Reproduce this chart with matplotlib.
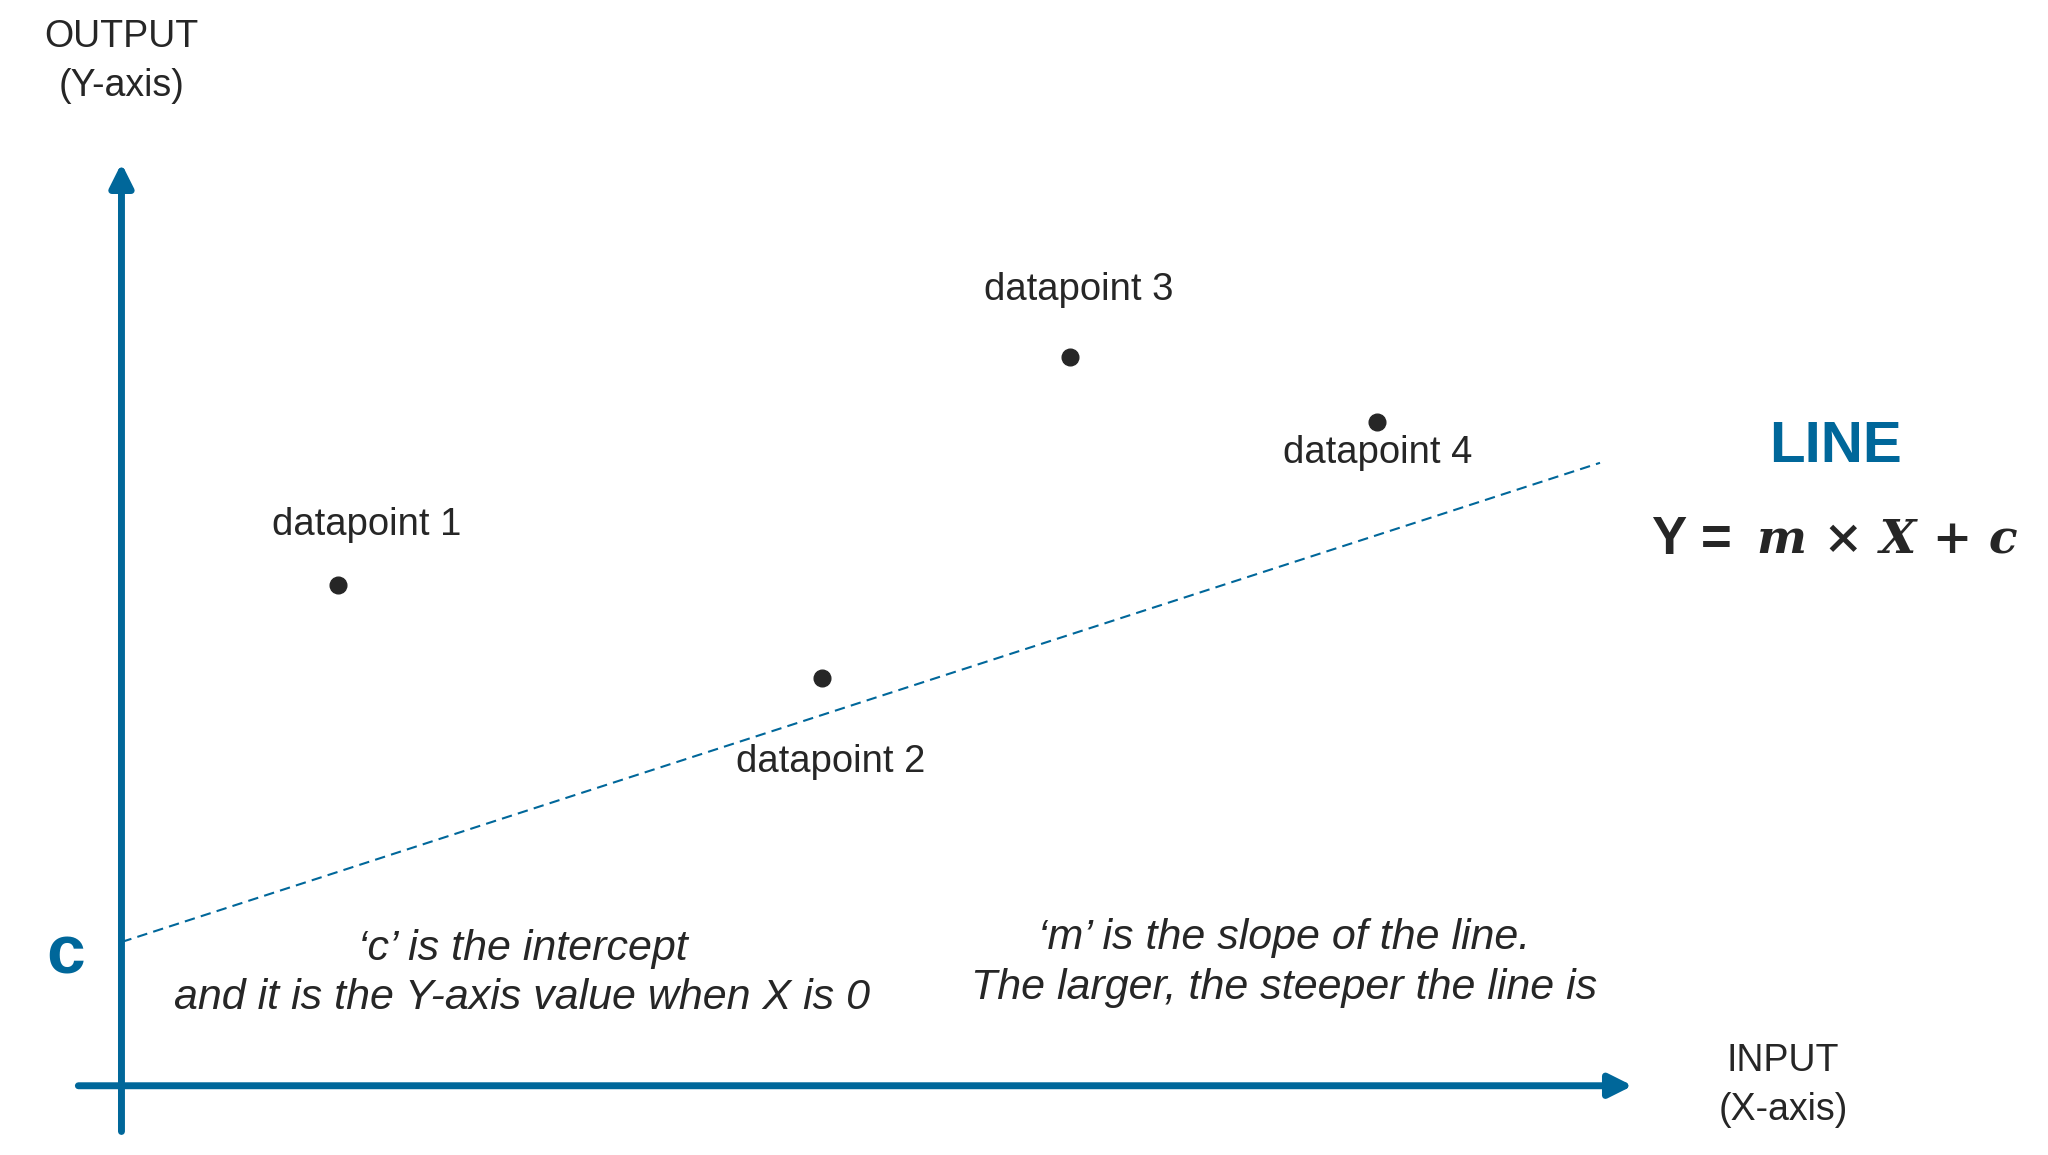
import matplotlib
matplotlib.use("Agg")
import matplotlib.pyplot as plt

plt.rcParams['font.family'] = ['Liberation Sans', 'DejaVu Sans']

BLUE = '#00679A'
DARK = '#262626'

# data (origin at axes intersection)
pt_x = [166, 536, 726, 961]
pt_y = [383, 312, 558, 508]
pt_labels = ['datapoint 1', 'datapoint 2', 'datapoint 3', 'datapoint 4']
label_x = [188, 543, 733, 962]
label_y = [429, 248, 609, 484]
intercept = 110
slope = 0.324
line_x = [0, 1132]

fig = plt.figure(figsize=(20.48, 11.55), dpi=100)
ax = fig.add_axes([0, 0, 1, 1])
ax.set_xlim(-93, 1568 - 93)
ax.set_ylim(-53, 831)
ax.axis('off')

# axes arrows
ax.annotate('', xy=(0, 706), xytext=(0, -35),
            arrowprops=dict(arrowstyle='-|>', lw=5, color=BLUE, mutation_scale=35, shrinkA=0, shrinkB=0))
ax.annotate('', xy=(1157, 0), xytext=(-33, 0),
            arrowprops=dict(arrowstyle='-|>', lw=5, color=BLUE, mutation_scale=35, shrinkA=0, shrinkB=0))

# fitted line
ax.plot(line_x, [intercept + slope * x for x in line_x], ls=(0, (5, 3)), lw=1.5, color=BLUE)

# points
ax.plot(pt_x, pt_y, 'o', ms=12, color=DARK, ls='none')
for lx, ly, t in zip(label_x, label_y, pt_labels):
    ax.text(lx, ly, t, ha='center', va='center', fontsize=27.5, color=DARK)

ax.text(0, 784, 'OUTPUT\n(Y-axis)', ha='center', va='center', fontsize=27, color=DARK, linespacing=1.45)
ax.text(1272, 0, 'INPUT\n(X-axis)', ha='center', va='center', fontsize=27, color=DARK, linespacing=1.45)
ax.text(-43, 100, 'c', ha='center', va='center', fontsize=50, fontweight='bold', color=BLUE)
ax.text(307, 86, '\u2018c\u2019 is the intercept\nand it is the Y-axis value when X is 0',
        ha='center', va='center', fontsize=31, style='italic', color=DARK, linespacing=1.3)
ax.text(890, 94, '\u2018m\u2019 is the slope of the line.\nThe larger, the steeper the line is',
        ha='center', va='center', fontsize=31, style='italic', color=DARK, linespacing=1.3)
ax.text(1312, 489, 'LINE', ha='center', va='center', fontsize=42, fontweight='bold', color=BLUE)
ax.text(1172, 418, 'Y =', ha='left', va='center', fontsize=38, fontweight='bold', color=DARK)
ax.text(1452, 418, 'm \u00d7 X + c', ha='right', va='center', fontsize=34, fontweight='bold',
        style='italic', family='DejaVu Serif', color=DARK)

fig.savefig('out.png', dpi=100, facecolor='white')
